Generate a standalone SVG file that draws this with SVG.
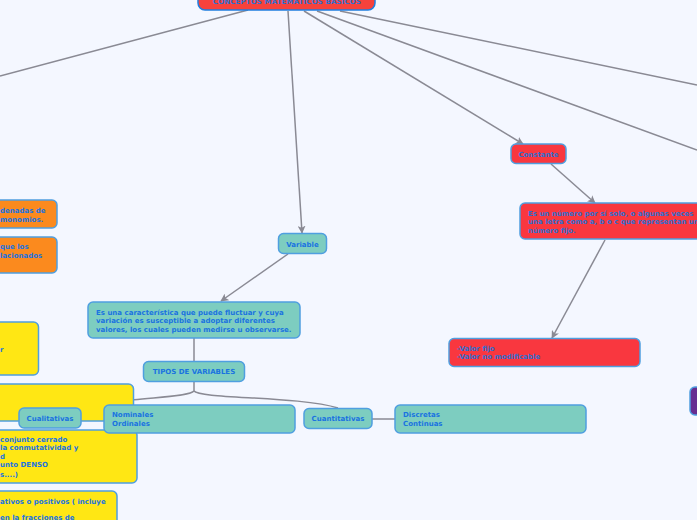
<svg xmlns="http://www.w3.org/2000/svg" width="697" height="520" viewBox="0 0 697 520">
<defs>
<style>
text{font-family:"DejaVu Sans",Verdana,sans-serif;font-weight:700;font-size:7px;fill:#1a73e0}
.n{stroke:#4f9fe0;stroke-width:1.5}
.t{fill:#7dcdc0}.r{fill:#f9373f}.o{fill:#fb8a1e}.y{fill:#ffe714}
.c{fill:none;stroke:#8a8a94;stroke-width:1.5}
.r+text,.r~text{fill:#2f6fd0}
</style>
<marker id="a" viewBox="0 0 10 10" refX="9" refY="5" markerWidth="8" markerHeight="8" orient="auto" markerUnits="userSpaceOnUse"><path d="M0 0L10 5L0 10L2.500 5Z" fill="#8a8a94"/></marker>
</defs>
<rect width="697" height="520" fill="#f4f7ff"/>
<g id="connectors">
<path class="c" d="M248 10L0 76"/>
<path class="c" d="M288 11L302 233" marker-end="url(#a)"/>
<path class="c" d="M304 11L523 144" marker-end="url(#a)"/>
<path class="c" d="M317 11L697 150"/>
<path class="c" d="M340 11L697 85"/>
<path class="c" d="M288 254L221 301" marker-end="url(#a)"/>
<path class="c" d="M551 164L595 203" marker-end="url(#a)"/>
<path class="c" d="M605 240L552 338" marker-end="url(#a)"/>
<path class="c" d="M194 338V361"/>
<path class="c" d="M194 381V391C190 396 160 397 134 399.700"/>
<path class="c" d="M194 391C200 399 300 396 338 408"/>
<path class="c" d="M372 419H395"/>
</g>
<g id="root"><rect class="n r" x="198" y="-14" width="177" height="24" rx="7" style="fill:#f7423c;stroke:#1f7fe0"/><text x="287" y="4" text-anchor="middle" style="letter-spacing:.15px">CONCEPTOS MATEMATICOS BASICOS</text></g>
<g id="o1"><rect class="n o" x="-30" y="200" width="87" height="28" rx="5"/><text x="0" y="213">denadas de</text><text x="0" y="222">monomios.</text></g>
<g id="o2"><rect class="n o" x="-30" y="237" width="87" height="36" rx="5"/><text x="0" y="249">que los</text><text x="0" y="258">lacionados</text></g>
<g id="y1"><rect class="n y" x="-30" y="322" width="68.500" height="53" rx="5"/><text x="0" y="352">r</text></g>
<g id="y2"><rect class="n y" x="-30" y="384" width="163.500" height="37" rx="5"/></g>
<g id="y3"><rect class="n y" x="-30" y="430" width="167" height="53" rx="5"/><text x="0" y="442">conjunto cerrado</text><text x="0" y="450">la conmutatividad y</text><text x="0" y="459">d</text><text x="0" y="467">unto DENSO</text><text x="0" y="477">s....)</text></g>
<g id="y4"><rect class="n y" x="-30" y="491" width="147" height="50" rx="5"/><text x="0" y="504">ativos o positivos ( incluye</text><text x="0" y="520">en la fracciones de</text></g>
<g id="cualitativas"><rect class="n t" x="19" y="408" width="62" height="20" rx="5"/><text x="50" y="421" text-anchor="middle">Cualitativas</text></g>
<g id="nominales"><rect class="n t" x="104" y="405" width="191" height="28" rx="5"/><text x="112" y="417">Nominales</text><text x="112" y="426">Ordinales</text></g>
<g id="cuantitativas"><rect class="n t" x="304" y="408.500" width="68" height="20" rx="5"/><text x="338" y="421" text-anchor="middle">Cuantitativas</text></g>
<g id="discretas"><rect class="n t" x="395" y="405" width="191" height="28" rx="5"/><text x="403" y="417">Discretas</text><text x="403" y="426">Continuas</text></g>
<g id="variable"><rect class="n t" x="278.500" y="233.500" width="48" height="20" rx="5"/><text x="302.500" y="247" text-anchor="middle">Variable</text></g>
<g id="definicion"><rect class="n t" x="88" y="302" width="212" height="36" rx="5"/><text x="96" y="315">Es una característica que puede fluctuar y cuya</text><text x="96" y="323">variación es susceptible a adoptar diferentes</text><text x="96" y="332">valores, los cuales pueden medirse u observarse.</text></g>
<g id="tipos"><rect class="n t" x="143.500" y="361.500" width="101" height="20" rx="5"/><text x="194" y="374" text-anchor="middle">TIPOS DE VARIABLES</text></g>
<g id="constante"><rect class="n r" x="511" y="144" width="55" height="19.500" rx="5"/><text x="538.500" y="157" text-anchor="middle">Constante</text></g>
<g id="numero"><rect class="n r" x="520" y="203" width="190" height="36" rx="5"/><text x="528" y="216">Es un número por sí solo, o algunas veces</text><text x="528" y="224">una letra como a, b o c que representan un</text><text x="528" y="233">número fijo.</text></g>
<g id="valor"><rect class="n r" x="449" y="338.500" width="191" height="28" rx="5"/><text x="457" y="351">-Valor fijo</text><text x="457" y="359">-Valor no modificable</text></g>
<g id="purple"><rect class="n" x="690" y="387" width="30" height="28" rx="5" fill="#662d91"/></g>
</svg>
